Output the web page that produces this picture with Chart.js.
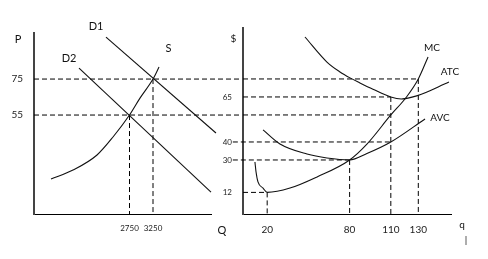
<!DOCTYPE html>
<html>
<head>
<meta charset="utf-8">
<script src="https://cdn.jsdelivr.net/npm/chart.js@4.4.1/dist/chart.umd.min.js"></script>
<style>
  html, body { margin: 0; padding: 0; background: #fff; }
  #wrap { position: relative; width: 488px; height: 259px; }
  #wrap canvas { position: absolute; left: 0; top: 0; }
</style>
</head>
<body>
<div id="wrap">
  <canvas id="market-chart" width="488" height="259"></canvas>
  <canvas id="firm-chart" width="488" height="259"></canvas>
</div>
<script>
// --- market panel (P vs Q) ---
const marketPriceTicks = [55, 75];
const marketQtyTicks = [2750, 3250];
const supplyQ = [1080, 1548, 2059, 2399, 2750, 2973, 3250, 3378];
const supplyP = [19.4, 24.4, 32.8, 42.8, 55, 64.4, 75, 81.7];
const demand1Q = [2250, 4590];
const demand1P = [98.3, 45];
const demand2Q = [1676, 4484];
const demand2P = [81.1, 12.2];
const marketPrices = [75, 55];
const marketEqQ = [3250, 2750];
const priceLineEndQ = 5165; // where the price lines meet the firm panel axis

// --- firm panel ($ vs q) ---
const firmCostTicks = [12, 30, 40, 65];
const firmQtyTicks = [20, 80, 110, 130];
const mcQ = [11.1, 11.9, 13.3, 17, 20, 36.6, 56.3, 80, 92.6, 110, 121.4, 130, 137.1];
const mcV = [28.9, 23.3, 17.8, 14.4, 12, 14.4, 20.6, 30, 38.8, 55, 65, 75, 87.2];
const atcQ = [47.5, 63.5, 73, 80.3, 87.5, 97, 110, 117.6, 128.8, 152.3];
const atcV = [98.3, 84.4, 78.9, 75.6, 72.8, 69.3, 65, 63.9, 65.6, 73.3];
const avcQ = [17, 29.3, 49, 63.5, 80, 92.6, 110, 134.9];
const avcV = [46.7, 38.9, 33.3, 31.1, 30, 33.6, 40, 52.8];
const levelV = [75, 55, 65, 40, 30, 12];
const levelEndQ = [130, 110, 110, 110, 80, 20];
const levelStartQ = [2.4, 2.4, 2.4, -5, -5, 2.4];
const dropTopV = [12, 30, 65, 75];

const fontFamily = 'Lato, "Open Sans", sans-serif';
const ink = '#111';

function pts(xs, ys) {
    return xs.map((x, i) => ({ x: x, y: ys[i] }));
}

function curve(xs, ys, straight) {
    return {
        data: pts(xs, ys),
        borderColor: ink,
        borderWidth: 1.1,
        pointRadius: 0,
        tension: 0,
        cubicInterpolationMode: straight ? 'default' : 'monotone',
        clip: false
    };
}

function dashed(xs, ys) {
    return {
        data: pts(xs, ys),
        borderColor: '#000',
        borderWidth: 1,
        borderDash: [5, 3],
        pointRadius: 0,
        tension: 0,
        clip: false
    };
}

// draws curve names and axis letters
const textPlugin = {
    id: 'texts',
    afterDraw(chart, args, opts) {
        const ctx = chart.ctx;
        ctx.save();
        ctx.fillStyle = ink;
        ctx.textAlign = 'center';
        ctx.textBaseline = 'middle';
        (opts.items || []).forEach(it => {
            const p = it.pos(chart);
            ctx.font = it.size + 'px ' + fontFamily;
            ctx.fillText(it.text, p[0], p[1]);
        });
        ctx.restore();
    }
};

function atPoint(chart, x, y, dx, dy) {
    return [chart.scales.x.getPixelForValue(x) + dx, chart.scales.y.getPixelForValue(y) + dy];
}

function axisOpts(min, max, ticks, fontSize, padding, isY, size) {
    return {
        type: 'linear',
        min: min,
        max: max,
        grid: { display: false, drawTicks: false },
        border: { display: true, color: isY ? '#444' : '#000', width: isY ? 2 : 1 },
        afterBuildTicks: s => { s.ticks = ticks.map(v => ({ value: v })); },
        afterFit: s => { if (isY) s.width = size; else s.height = size; },
        ticks: {
            autoSkip: false,
            maxRotation: 0,
            padding: padding,
            color: '#222',
            font: { family: fontFamily, size: fontSize },
            callback: v => String(v)
        }
    };
}

function initMarket() {
    const ctx = document.getElementById('market-chart').getContext('2d');
    const last = supplyQ.length - 1;
    const datasets = [
        curve(supplyQ, supplyP, false),
        curve(demand1Q, demand1P, true),
        curve(demand2Q, demand2P, true)
    ];
    marketPrices.forEach((p, i) => {
        datasets.push(dashed([718, priceLineEndQ], [p, p]));
        datasets.push(dashed([marketEqQ[i], marketEqQ[i]], [p, 0]));
    });
    new Chart(ctx, {
        type: 'line',
        data: { datasets: datasets },
        options: {
            responsive: false,
            animation: false,
            events: [],
            layout: { padding: { left: 0, top: 33, right: 277, bottom: 0 } },
            plugins: {
                legend: { display: false },
                tooltip: { enabled: false },
                texts: {
                    items: [
                        { text: 'D1', size: 11, pos: c => atPoint(c, demand1Q[0], demand1P[0], -10, -11) },
                        { text: 'D2', size: 11, pos: c => atPoint(c, demand2Q[0], demand2P[0], -10, -10) },
                        { text: 'S', size: 11, pos: c => atPoint(c, supplyQ[last], supplyP[last], 9.5, -19) },
                        { text: 'P', size: 11, pos: c => [c.chartArea.left - 16, c.chartArea.top + 6] },
                        { text: 'Q', size: 11, pos: c => [c.chartArea.right + 11, c.chartArea.bottom + 16] }
                    ]
                }
            },
            scales: {
                x: axisOpts(718, 4484, marketQtyTicks, 8, 10, false, 45),
                y: axisOpts(0, 100.6, marketPriceTicks, 10, 11, true, 34)
            }
        },
        plugins: [textPlugin]
    });
}

function initFirm() {
    const ctx = document.getElementById('firm-chart').getContext('2d');
    const datasets = [
        curve(mcQ, mcV, false),
        curve(atcQ, atcV, false),
        curve(avcQ, avcV, false)
    ];
    levelV.forEach((v, i) => {
        datasets.push(dashed([levelStartQ[i], levelEndQ[i]], [v, v]));
    });
    firmQtyTicks.forEach((q, i) => {
        datasets.push(dashed([q, q], [dropTopV[i], 0]));
    });
    const mcL = mcQ.length - 1, atcL = atcQ.length - 1, avcL = avcQ.length - 1;
    new Chart(ctx, {
        type: 'line',
        data: { datasets: datasets },
        options: {
            responsive: false,
            animation: false,
            events: [],
            layout: { padding: { left: 213, top: 28, right: 37, bottom: 0 } },
            plugins: {
                legend: { display: false },
                tooltip: { enabled: false },
                texts: {
                    items: [
                        { text: 'MC', size: 10, pos: c => atPoint(c, mcQ[mcL], mcV[mcL], 4, -9) },
                        { text: 'ATC', size: 10, pos: c => atPoint(c, atcQ[atcL], atcV[atcL], 1, -10) },
                        { text: 'AVC', size: 10, pos: c => atPoint(c, avcQ[avcL], avcV[avcL], 15, -1) },
                        { text: '$', size: 10, pos: c => [c.chartArea.left - 9.5, c.chartArea.top + 11] },
                        { text: 'q', size: 10, pos: c => [c.chartArea.right + 11, c.chartArea.bottom + 11] },
                        { text: '|', size: 10, pos: c => [c.chartArea.right + 15, c.chartArea.bottom + 26] }
                    ]
                }
            },
            scales: {
                x: axisOpts(2.4, 153.8, firmQtyTicks, 10, 10, false, 45),
                y: axisOpts(0, 103.3, firmCostTicks, 8, 11, true, 30)
            }
        },
        plugins: [textPlugin]
    });
}

document.addEventListener("DOMContentLoaded", () => {
    initMarket();
    initFirm();
});
</script>
</body>
</html>
